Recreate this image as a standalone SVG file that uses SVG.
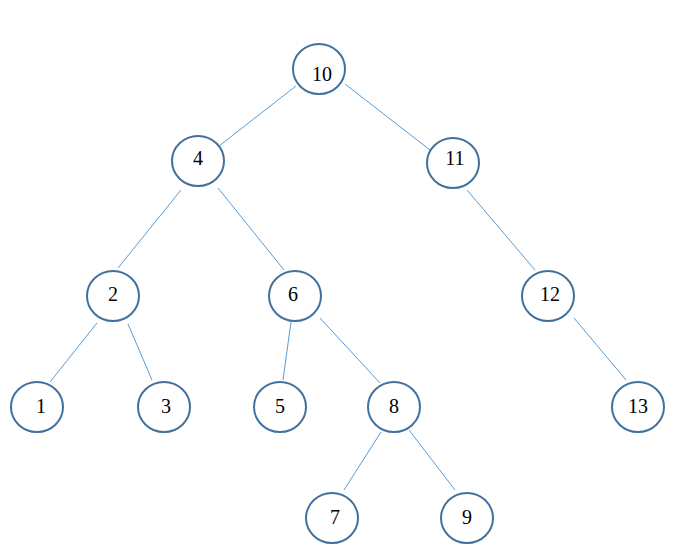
<svg xmlns="http://www.w3.org/2000/svg" width="694" height="560" viewBox="0 0 694 560">
<style>
.n ellipse{fill:#fff;stroke:#41719c;stroke-width:2}
.n text{font-family:"Liberation Serif",serif;font-size:20px;fill:#000;text-anchor:middle;dominant-baseline:central}
#edges line{stroke:#5b9bd5;stroke-width:1}
</style>
<rect width="694" height="560" fill="#fff"/>
<g id="edges">
<line x1="296" y1="86" x2="219" y2="146"/>
<line x1="345" y1="84" x2="430" y2="150"/>
<line x1="181" y1="190" x2="118" y2="268"/>
<line x1="218" y1="188" x2="284" y2="270"/>
<line x1="467" y1="190" x2="535" y2="270"/>
<line x1="97" y1="323" x2="50" y2="382"/>
<line x1="128" y1="324" x2="152" y2="380"/>
<line x1="291" y1="322" x2="283" y2="380"/>
<line x1="320" y1="318" x2="380" y2="383"/>
<line x1="574" y1="318" x2="626" y2="380"/>
<line x1="381" y1="432" x2="344" y2="490"/>
<line x1="409" y1="430" x2="455" y2="490"/>
</g>
<g id="n10" class="n"><ellipse cx="319" cy="69" rx="26" ry="25"/><text x="322" y="74">10</text></g>
<g id="n4" class="n"><ellipse cx="198" cy="161" rx="26" ry="25"/><text x="198" y="158">4</text></g>
<g id="n11" class="n"><ellipse cx="453" cy="163" rx="26" ry="25"/><text x="455" y="158">11</text></g>
<g id="n2" class="n"><ellipse cx="113" cy="296" rx="26" ry="25"/><text x="113" y="294">2</text></g>
<g id="n6" class="n"><ellipse cx="295" cy="296" rx="26" ry="25"/><text x="293" y="294">6</text></g>
<g id="n12" class="n"><ellipse cx="548" cy="296" rx="26" ry="25"/><text x="550" y="294">12</text></g>
<g id="n1" class="n"><ellipse cx="37" cy="407" rx="26" ry="25"/><text x="41" y="406">1</text></g>
<g id="n3" class="n"><ellipse cx="164" cy="407" rx="26" ry="25"/><text x="166" y="406">3</text></g>
<g id="n5" class="n"><ellipse cx="280" cy="407" rx="26" ry="25"/><text x="280" y="406">5</text></g>
<g id="n8" class="n"><ellipse cx="394" cy="407" rx="26" ry="25"/><text x="394" y="406">8</text></g>
<g id="n13" class="n"><ellipse cx="638" cy="407" rx="26" ry="25"/><text x="638" y="406">13</text></g>
<g id="n7" class="n"><ellipse cx="332" cy="518" rx="26" ry="25"/><text x="335" y="517">7</text></g>
<g id="n9" class="n"><ellipse cx="467" cy="518" rx="26" ry="25"/><text x="467" y="517">9</text></g>
</svg>
